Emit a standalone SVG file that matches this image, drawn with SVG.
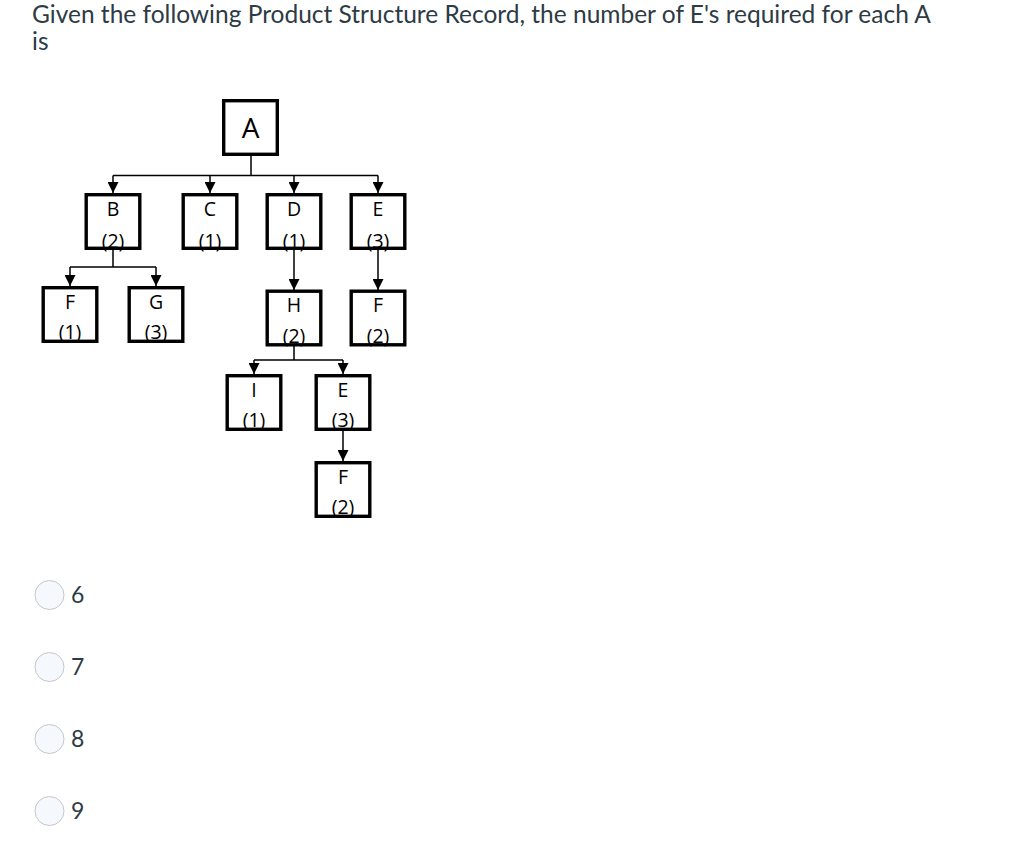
<svg xmlns="http://www.w3.org/2000/svg" width="1024" height="842" viewBox="0 0 1024 842">
<style>
.q{font-family:Lato,"Open Sans","Liberation Sans",sans-serif;font-size:24.5px;fill:#2d3b45}
.o{font-family:Lato,"Open Sans","Liberation Sans",sans-serif;font-size:23px;fill:#2d3b45}
.box{fill:#fff;stroke:#000;stroke-width:3.4}
.t{font-family:"Open Sans","Liberation Sans",sans-serif;font-size:19.5px;fill:#000;text-anchor:middle}
.ta{font-family:"Open Sans","Liberation Sans",sans-serif;font-size:28px;fill:#000;text-anchor:middle}
.c{fill:none;stroke:#000;stroke-width:1.5}
.a{fill:none;stroke:#000;stroke-width:1.5;marker-end:url(#ah)}
.r{fill:#f5f8fc;stroke:#c2c8cc;stroke-width:1}
</style>
<defs>
<marker id="ah" markerUnits="userSpaceOnUse" markerWidth="11" markerHeight="11" refX="10" refY="5" orient="auto" viewBox="0 0 10 10">
<path d="M0,0 L10,5 L0,10 z" fill="#000"/>
</marker>
</defs>
<rect width="1024" height="842" fill="#fff"/>
<g id="question">
<text class="q" x="32" y="22.5">Given the following Product Structure Record, the number of E's required for each A</text>
<text class="q" x="32" y="50">is</text>
</g>
<g id="connectors">
<path class="c" d="M251,156 V175.5 M113,175.5 H378"/>
<path class="a" d="M113,175.5 V193"/>
<path class="a" d="M210,175.5 V193"/>
<path class="a" d="M294,175.5 V193"/>
<path class="a" d="M378,175.5 V193"/>
<path class="c" d="M113,250 V267 M70,267 H156"/>
<path class="a" d="M70,267 V286"/>
<path class="a" d="M156,267 V286"/>
<path class="a" d="M294,250 V290"/>
<path class="a" d="M378,250 V290"/>
<path class="c" d="M294,346 V360 M254,360 H343"/>
<path class="a" d="M254,360 V374"/>
<path class="a" d="M343,360 V374"/>
<path class="a" d="M343,431 V461"/>
</g>
<g id="nodeA"><rect class="box" x="223.7" y="100.7" width="53.6" height="53.6"/><text class="ta" x="250.5" y="138">A</text></g>
<g id="nodeB"><rect class="box" x="86.2" y="194.7" width="53.6" height="53.6"/><text class="t" x="113" y="215.5">B</text><text class="t" x="113" y="248">(2)</text></g>
<g id="nodeC"><rect class="box" x="183.2" y="194.7" width="53.6" height="53.6"/><text class="t" x="210" y="215.5">C</text><text class="t" x="210" y="248">(1)</text></g>
<g id="nodeD"><rect class="box" x="267.2" y="194.7" width="53.6" height="53.6"/><text class="t" x="294" y="215.5">D</text><text class="t" x="294" y="248">(1)</text></g>
<g id="nodeE"><rect class="box" x="351.2" y="194.7" width="53.6" height="53.6"/><text class="t" x="378" y="215.5">E</text><text class="t" x="378" y="248">(3)</text></g>
<g id="nodeF1"><rect class="box" x="43.2" y="287.7" width="53.6" height="53.6"/><text class="t" x="70" y="308.5">F</text><text class="t" x="70" y="339">(1)</text></g>
<g id="nodeG"><rect class="box" x="129.2" y="287.7" width="53.6" height="53.6"/><text class="t" x="156" y="308.5">G</text><text class="t" x="156" y="339">(3)</text></g>
<g id="nodeH"><rect class="box" x="267.2" y="291.2" width="53.6" height="53.6"/><text class="t" x="294" y="312">H</text><text class="t" x="294" y="343">(2)</text></g>
<g id="nodeF2"><rect class="box" x="351.2" y="291.2" width="53.6" height="53.6"/><text class="t" x="378" y="312">F</text><text class="t" x="378" y="343">(2)</text></g>
<g id="nodeI"><rect class="box" x="227.2" y="375.7" width="53.6" height="53.6"/><text class="t" x="254" y="396.5">I</text><text class="t" x="254" y="427">(1)</text></g>
<g id="nodeE2"><rect class="box" x="316.2" y="375.7" width="53.6" height="53.6"/><text class="t" x="343" y="396.5">E</text><text class="t" x="343" y="427">(3)</text></g>
<g id="nodeF3"><rect class="box" x="316.2" y="462.7" width="53.6" height="53.6"/><text class="t" x="343" y="483.5">F</text><text class="t" x="343" y="514">(2)</text></g>
<g id="options">
<circle class="r" cx="49.5" cy="595" r="14.5"/><text class="o" x="71" y="603">6</text>
<circle class="r" cx="49.5" cy="667" r="14.5"/><text class="o" x="71" y="675">7</text>
<circle class="r" cx="49.5" cy="739" r="14.5"/><text class="o" x="71" y="747">8</text>
<circle class="r" cx="49.5" cy="811" r="14.5"/><text class="o" x="71" y="819">9</text>
</g>
</svg>
